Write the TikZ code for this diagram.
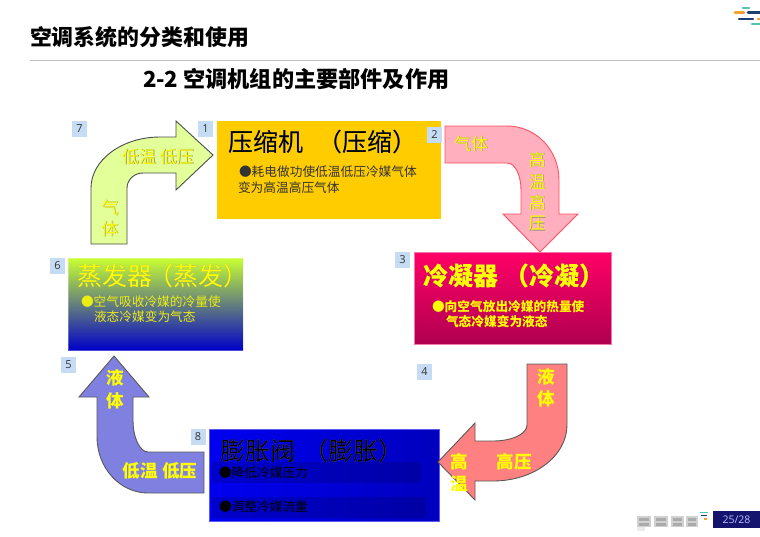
\documentclass[tikz,border=0pt]{standalone}
\usepackage{fontspec}
\setmainfont{Noto Sans CJK SC}
\newfontfamily\latinf{Open Sans}
\definecolor{tag}{HTML}{C6DCF4}
\definecolor{sh}{HTML}{8A8A8A}
\definecolor{yl}{HTML}{FFFF00}
\definecolor{navy}{HTML}{1F3F6E}
\definecolor{teal}{HTML}{4FC4B4}
\definecolor{orng}{HTML}{F5A030}
\newcommand{\shtx}[2]{\makebox[0pt][l]{\kern.7pt\raisebox{-.7pt}{\textcolor{#1}{#2}}}#2}
\newcommand{\fs}[1]{\fontsize{#1}{#1}\selectfont}
\tikzset{
  x=1pt,y=-1pt,
  tagbox/.style={fill=tag,minimum width=15pt,minimum height=16pt,inner sep=0pt,font=\latinf\fs{11},text=black!80},
  panel/.style={anchor=north west,inner sep=0pt,outer sep=0pt},
  txt/.style={anchor=west,inner sep=0pt,outer sep=0pt},
  ctr/.style={inner sep=0pt,outer sep=0pt},
  bigt/.style={font=\fs{25}},
  bodyt/.style={font=\fs{12.7}},
  arrt/.style={text=yl,font=\fs{17}},
  arrtb/.style={text=yl,font=\bfseries\fs{17.5}},
  curvearrow/.style={line width=.9pt,line join=miter},
  bar/.style={line width=2.6pt,line cap=round},
}
\begin{document}
\begin{tikzpicture}
\useasboundingbox (0,0) rectangle (760,536);
\fill[white] (0,0) rectangle (760,536);
% header
\node[txt] (title) at (30,37) {\bfseries\fs{21.9}空调系统的分类和使用};
\coordinate (ruleL) at (30,60); \coordinate (ruleR) at (760,60);
\draw[black!25,line width=.9pt] (ruleL) -- (ruleR);
\node[txt] (sub) at (143,79) {\bfseries\fs{22.15}2-2 空调机组的主要部件及作用};
% logo
\draw[bar,teal] (743,8) -- (749,8);
\draw[bar,orng] (735,12.7) -- (744,12.7);
\draw[bar,navy] (748,12.7) -- (760,12.7);
\draw[bar,navy] (739,19) -- (753,19);
\draw[bar,orng] (758,19) -- (760,19);
\draw[bar,teal] (752,24) -- (760,24);
% panels
\node[panel,fill={rgb,255:red,255;green,204;blue,0},minimum width=224pt,minimum height=98pt] (comp) at (217,121) {};
\node[panel,top color={rgb,255:red,255;green,0;blue,102},bottom color={rgb,255:red,176;green,0;blue,80},draw={rgb,255:red,240;green,120;blue,170},line width=.6pt,minimum width=197pt,minimum height=92pt] (cond) at (414,252) {};
\node[panel,top color={rgb,255:red,200;green,255;blue,50},bottom color={rgb,255:red,0;green,0;blue,200},draw=white,draw opacity=.3,line width=.6pt,minimum width=175pt,minimum height=92pt] (evap) at (68,258) {};
\node[panel,left color={rgb,255:red,0;green,0;blue,240},right color={rgb,255:red,0;green,0;blue,190},draw={rgb,255:red,90;green,90;blue,240},line width=.6pt,minimum width=230pt,minimum height=92pt] (valve) at (209,429) {};
\fill[black,fill opacity=.14] (212,462) rectangle (421,483);
\fill[black,fill opacity=.14] (212,497) rectangle (426,518);
% arrows
\draw[curvearrow,draw=black!70,fill={rgb,255:red,226;green,255;blue,154}]
  (91,244) -- (91,188) .. controls (91,160) and (122,137) .. (160,137) -- (176,137) -- (176,121) -- (213,155) -- (176,190) -- (176,173) -- (143,173) .. controls (134,173) and (127,180) .. (127,188) -- (127,244) -- cycle;
\draw[curvearrow,draw={rgb,255:red,255;green,80;blue,96},fill={rgb,255:red,255;green,175;blue,190}]
  (445,126) -- (507,126) .. controls (536,126) and (559,150) .. (559,180) -- (559,214) -- (578,214) -- (540,252) -- (503,214) -- (521,214) -- (521,190) .. controls (521,175) and (515,163) .. (507,163) -- (445,163) -- cycle;
\draw[curvearrow,draw=black!65,fill={rgb,255:red,255;green,128;blue,128}]
  (527,364) -- (567,364) -- (567,425) .. controls (567,456) and (534,481) .. (493,481) -- (475,481) -- (475,500) -- (438,462) -- (475,423) -- (475,441) -- (493,441) .. controls (512,441) and (527,434) .. (527,425) -- cycle;
\draw[curvearrow,draw=black!65,fill={rgb,255:red,128;green,128;blue,224}]
  (114,356) -- (149,397) -- (133,397) -- (133,420) .. controls (133,438) and (140,452) .. (148,452) -- (204,452) -- (204,493) -- (148,493) .. controls (120,493) and (97,468) .. (97,437) -- (97,397) -- (79,397) -- cycle;
% tags
\node[tagbox] (t7) at (79.5,129) {7};
\node[tagbox] (t1) at (205.5,129) {1};
\node[tagbox] (t2) at (434.5,135) {2};
\node[tagbox] (t3) at (402.5,260) {3};
\node[tagbox] (t6) at (57.5,266) {6};
\node[tagbox] (t5) at (68.5,365) {5};
\node[tagbox] (t4) at (424.5,372) {4};
\node[tagbox] (t8) at (198,437) {8};
% compressor text
\node[txt,bigt] (c1) at (228,142) {\shtx{navy!70}{压缩机\kern14pt（压缩）}};
\node[txt,bodyt,text=black!80] (c3) at (239,172) {●耗电做功使低温低压冷媒气体};
\node[txt,bodyt,text=black!80] (c4) at (238,188) {变为高温高压气体};
% condenser text
\node[txt,bigt,text=yl] (d1) at (423,276) {\bfseries\shtx{sh}{冷凝器\kern6pt（冷凝）}};
\node[txt,bodyt,text=yl] (d3) at (432,307) {\bfseries ●向空气放出冷媒的热量使};
\node[txt,bodyt,text=yl] (d4) at (446,322) {\bfseries 气态冷媒变为液态};
% evaporator text
\node[txt,bigt,text=yl] (e1) at (77,276) {\shtx{sh}{蒸发器\kern-4pt（蒸发）}};
\node[txt,bodyt,text=yl!85!gray] (e3) at (81,302) {●空气吸收冷媒的冷量使};
\node[txt,bodyt,text=yl!85!gray] (e4) at (94,317) {液态冷媒变为气态};
% valve text
\node[txt,bigt,text=black] (v1) at (220,451) {\shtx{sh}{膨胀阀\kern8pt（膨胀）}};
\node[txt,bodyt,text=black] (v3) at (219,473) {●降低冷媒压力};
\node[txt,bodyt,text=black] (v4) at (219,507) {●调整冷媒流量};
% arrow labels
\node[ctr,arrt] (a1) at (158,157) {\shtx{sh}{低温 低压}};
\node[ctr,arrt] (a2) at (110,208) {\shtx{sh}{气}};
\node[ctr,arrt] (a3) at (110,229) {\shtx{sh}{体}};
\node[ctr,arrt] (b1) at (471,144) {\shtx{sh}{气体}};
\node[ctr,arrt] (b2) at (537,160) {\shtx{sh}{高}};
\node[ctr,arrt] (b3) at (537,182) {\shtx{sh}{温}};
\node[ctr,arrt] (b4) at (537,203) {\shtx{sh}{高}};
\node[ctr,arrt] (b5) at (537,224) {\shtx{sh}{压}};
\node[ctr,arrtb] (f1) at (546,377) {液};
\node[ctr,arrtb] (f2) at (546,399) {体};
\node[ctr,arrtb] (f3) at (514,462) {高压};
\node[ctr,arrtb] (f4) at (459,462) {高};
\node[ctr,arrtb] (f5) at (459,484) {温};
\node[ctr,arrtb] (g1) at (115,378) {液};
\node[ctr,arrtb] (g2) at (115,401) {体};
\node[ctr,arrtb] (g3) at (160,471) {低温 低压};
% footer (blurred mark)
\foreach \xa/\xb in {637/651,654/668,671/684,686/698}{
  \fill[black,fill opacity=.18] (\xa,516) rectangle (\xb,527);
  \fill[black,fill opacity=.18] (\xa+2,518) rectangle (\xb-2,521);
  \fill[black,fill opacity=.18] (\xa+2,523) rectangle (\xb-2,526);
}
\fill[black,fill opacity=.08] (637,527) rectangle (645,531);
\draw[teal,line width=1pt] (700,512) -- (708,512);
\draw[navy,line width=1pt] (701,515) -- (707,515);
\draw[orng,line width=1.4pt] (704,519) -- (707,519);
\node[panel,fill={rgb,255:red,20;green,20;blue,110},minimum width=47pt,minimum height=17pt,text=white!75!blue,font=\latinf\fs{10.5}] (page) at (713,511) {25/28};
\end{tikzpicture}
\end{document}
